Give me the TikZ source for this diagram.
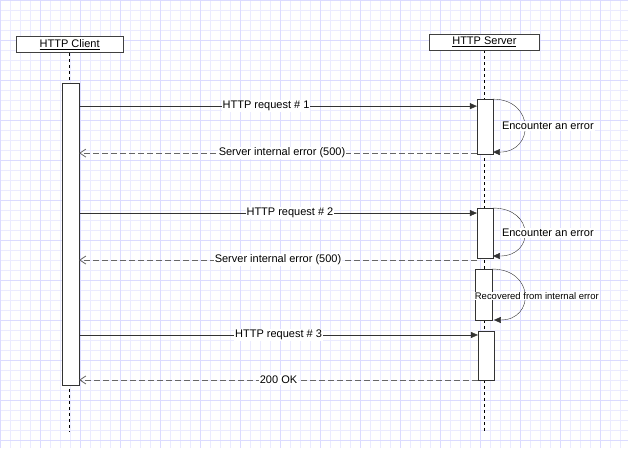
\documentclass[tikz,border=0pt]{standalone}
\usepackage{fontspec}
\setmainfont{Liberation Sans}
\usetikzlibrary{arrows.meta}
\begin{document}
\begin{tikzpicture}[x=1pt,y=-1pt,
  every node/.style={font=\fontsize{11}{13}\selectfont, inner sep=1pt, text=black},
  head/.style={draw=black!75, thick, fill=white, minimum height=16pt, inner sep=0pt},
  act/.style={draw=black!80, fill=white},
  life/.style={dashed, black},
  msg/.style={-{Triangle[length=7pt,width=6pt]}, black!80},
  ret/.style={-{Straight Barb[length=6pt,width=8pt]}, dash pattern=on 6pt off 3pt, thick, black!60},
  lbl/.style={fill=white},
  loop/.style={-{Triangle[length=7pt,width=6pt]}, black!80}]
\fill[white] (0,0) rectangle (628,448);
\foreach \i in {0,10,...,620} \draw[blue!8] (\i,0) -- (\i,448);
\foreach \j in {0,10,...,440} \draw[blue!8] (0,\j) -- (628,\j);
\foreach \i in {0,40,...,620} \draw[blue!14] (\i,0) -- (\i,448);
\foreach \j in {0,40,...,440} \draw[blue!14] (0,\j) -- (628,\j);
\useasboundingbox (0,0) rectangle (628,448);
% lifelines
\draw[life] (69,53) -- (69,432);
\draw[life] (484,50) -- (484,432);
\node[head, minimum width=107pt] (client) at (69.5,44.5) {\underline{HTTP Client}};
\node[head, minimum width=111pt] (server) at (484.5,42) {\underline{HTTP Server}};
% activations
\draw[act] (62,83) rectangle (79,385);
\draw[act] (477,99) rectangle (493,154);
\draw[act] (477,208) rectangle (493,258);
\draw[act] (475,269) rectangle (492,320);
\draw[act] (478,331) rectangle (494,380);
\coordinate (c1) at (79,106);  \coordinate (s1) at (477,106);
\coordinate (s1r) at (477,153); \coordinate (c1r) at (79,153);
\coordinate (c2) at (79,213);  \coordinate (s2) at (477,213);
\coordinate (s2r) at (477,260); \coordinate (c2r) at (79,260);
\coordinate (c3) at (79,335);  \coordinate (s3) at (478,335);
\coordinate (s3r) at (478,380); \coordinate (c3r) at (79,380);
% messages
\draw[msg] (c1) -- node[lbl, pos=0.47] {HTTP request \# 1} (s1);
\draw[ret] (s1r) -- node[lbl, pos=0.49] {Server internal error (500)} (c1r);
\draw[msg] (c2) -- node[lbl, pos=0.53] {HTTP request \# 2} (s2);
\draw[ret] (s2r) -- node[lbl, pos=0.5] {Server internal error (500)} (c2r);
\draw[msg] (c3) -- node[lbl, pos=0.5] {HTTP request \# 3} (s3);
\draw[ret] (s3r) -- node[lbl, pos=0.5] {200 OK} (c3r);
% self calls
\coordinate (a1) at (493,99);  \coordinate (b1) at (493,152);
\coordinate (a2) at (493,208); \coordinate (b2) at (493,256);
\coordinate (a3) at (492,269); \coordinate (b3) at (494,320);
\draw[loop] (a1) .. controls (535,99) and (535,152) .. (b1);
\draw[loop] (a2) .. controls (535,208) and (535,256) .. (b2);
\draw[loop] (a3) .. controls (535,269) and (535,320) .. (b3);
\node[lbl] (e1) at (548,126) {Encounter an error};
\node[lbl] (e2) at (548,233) {Encounter an error};
\node[lbl, font=\fontsize{9.5}{11}\selectfont] (e3) at (537,296) {Recovered from internal error};
\end{tikzpicture}
\end{document}
